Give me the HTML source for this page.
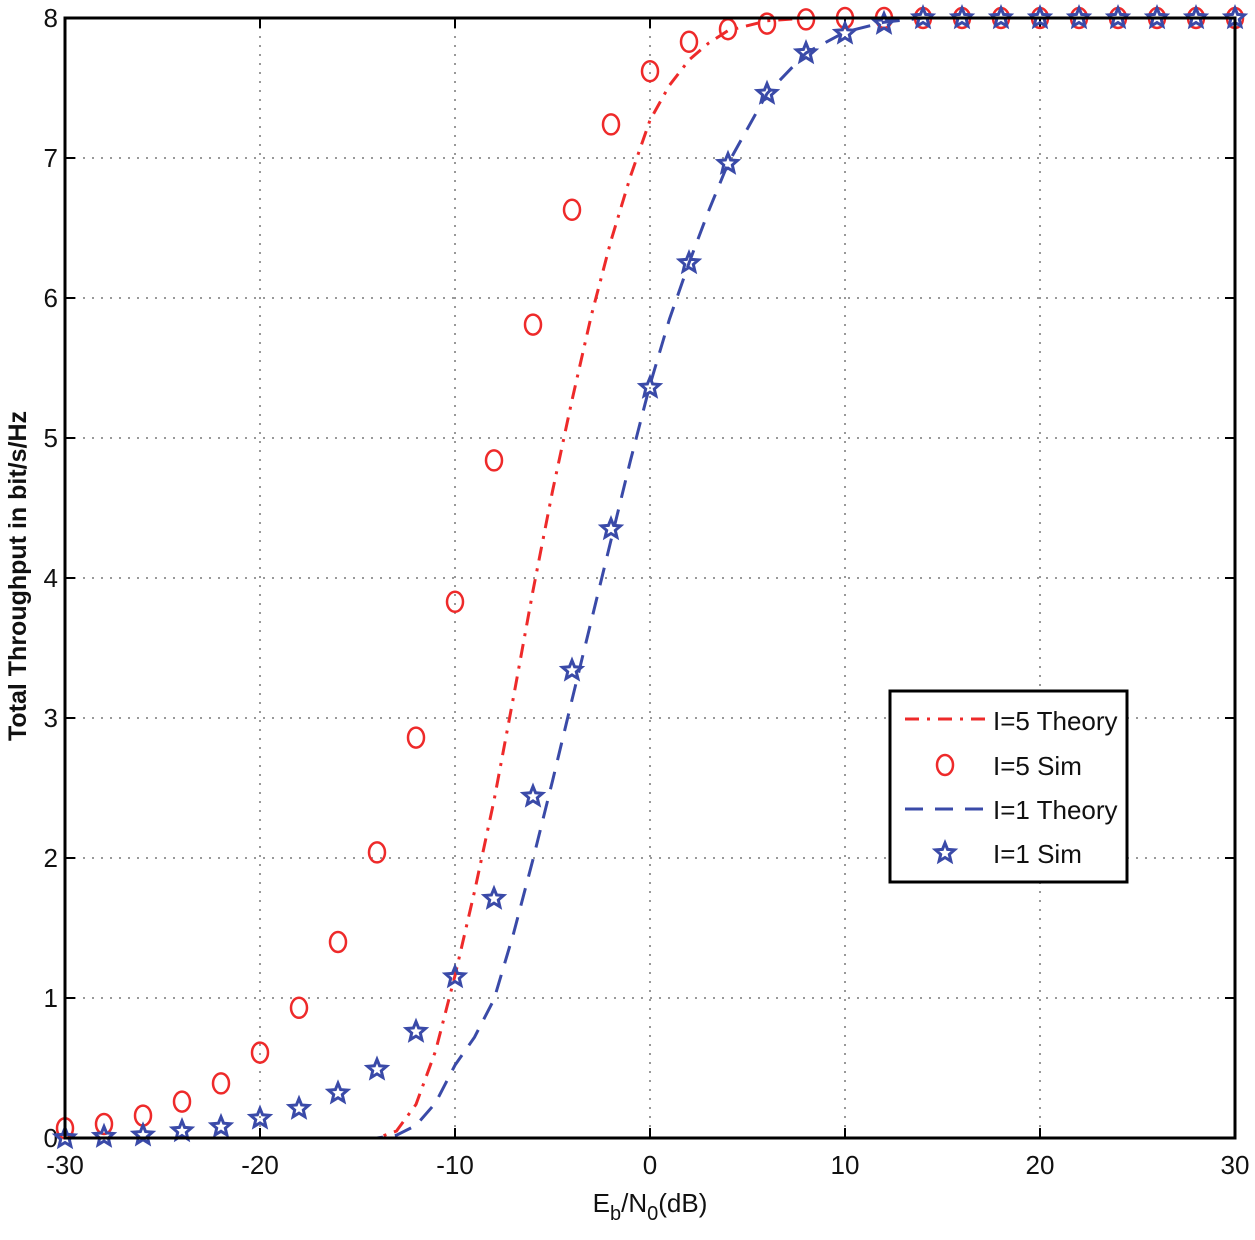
<!DOCTYPE html>
<html><head><meta charset="utf-8"><style>
html,body{margin:0;padding:0;background:#fff;}
svg{display:block;font-family:"Liberation Sans",Arial,sans-serif;}
</style></head><body>
<svg id="chart" width="1255" height="1240"></svg>
<script>
const simX = [-30,-28,-26,-24,-22,-20,-18,-16,-14,-12,-10,-8,-6,-4,-2,0,2,4,6,8,10,12,14,16,18,20,22,24,26,28,30];
const simL5 = [0.07,0.1,0.16,0.26,0.39,0.61,0.93,1.4,2.04,2.86,3.83,4.84,5.81,6.63,7.24,7.62,7.83,7.92,7.96,7.99,8,8,8,8,8,8,8,8,8,8,8];
const simL1 = [0,0.01,0.02,0.05,0.08,0.14,0.21,0.32,0.49,0.76,1.15,1.71,2.44,3.34,4.35,5.36,6.25,6.96,7.46,7.75,7.89,7.96,8,8,8,8,8,8,8,8,8];
const thX = [-30,-14,-13,-12,-11,-10,-9,-8,-7,-6,-5,-4,-3,-2,-1,0,1,2,3,4,6,8,10,12,14,30];
const thL5 = [0,0,0.05,0.24,0.62,1.16,1.76,2.41,3.15,3.91,4.62,5.27,5.88,6.41,6.87,7.27,7.52,7.7,7.82,7.91,7.98,8,8,8,8,8];
const thL1 = [0,0,0.02,0.09,0.25,0.52,0.72,0.99,1.46,1.99,2.55,3.13,3.7,4.27,4.84,5.38,5.85,6.25,6.62,6.96,7.46,7.75,7.9,7.97,8,8];
const xTicks = [-30,-20,-10,0,10,20,30];
const yTicks = [0,1,2,3,4,5,6,7,8];

const NS='http://www.w3.org/2000/svg';
const svg=document.getElementById('chart');
const X0=65,X1=1235,Y0=1138,Y1=18;
const xs=v=>X0+(v+30)/60*(X1-X0);
const ys=v=>Y0-v/8*(Y0-Y1);
function mk(tag,attrs,parent){const e=document.createElementNS(NS,tag);for(const k in attrs)e.setAttribute(k,attrs[k]);(parent||svg).appendChild(e);return e;}

const grid=mk('g',{});


xTicks.forEach(t=>{
  const l=mk('line',{x1:xs(t),x2:xs(t),y1:Y1,y2:Y0,stroke:'#999','stroke-width':2,'stroke-dasharray':'2,7'},grid);
  
  
  const tk=mk('text',{x:xs(t),y:Y0+36,'text-anchor':'middle','font-size':26,fill:'#111'});
  tk.textContent=t;
  
  
  mk('line',{x1:xs(t),x2:xs(t),y1:Y0,y2:Y0-10,stroke:'#000','stroke-width':2});
  mk('line',{x1:xs(t),x2:xs(t),y1:Y1,y2:Y1+10,stroke:'#000','stroke-width':2});
});
yTicks.forEach(t=>{
  const l=mk('line',{x1:X0,x2:X1,y1:ys(t),y2:ys(t),stroke:'#999','stroke-width':2,'stroke-dasharray':'2,7'},grid);
  
  
  const tk=mk('text',{x:X0-7,y:ys(t)+9,'text-anchor':'end','font-size':26,fill:'#111'});
  tk.textContent=t;
  
  
  mk('line',{x1:X0,x2:X0+10,y1:ys(t),y2:ys(t),stroke:'#000','stroke-width':2});
  mk('line',{x1:X1,x2:X1-10,y1:ys(t),y2:ys(t),stroke:'#000','stroke-width':2});
});

function line(xa,ya,color,dash,name){
  const p=mk('path',{d:xa.map((x,i)=>(i?'L':'M')+xs(x)+','+ys(ya[i])).join(''),fill:'none',stroke:color,'stroke-width':3,'stroke-dasharray':dash});
  
  
}
line(thX,thL1,'#3a4aa8','18,12','l1-theory-line');
line(thX,thL5,'#ee2a2a','14,8,3,8','l5-theory-line');

function star(cx,cy,r){let pts=[];for(let i=0;i<10;i++){const a=-Math.PI/2+i*Math.PI/5;const rr=i%2?r*0.45:r;pts.push((cx+rr*Math.cos(a)).toFixed(1)+','+(cy+rr*Math.sin(a)).toFixed(1));}return pts.join(' ');}
simX.forEach((x,i)=>{
  const c=mk('ellipse',{cx:xs(x),cy:ys(simL5[i]),rx:8,ry:10,fill:'none',stroke:'#ee2a2a','stroke-width':2.5});
  
  
  const s=mk('polygon',{points:star(xs(x),ys(simL1[i]),10),fill:'none',stroke:'#3a4aa8','stroke-width':3});
  
  
});

const frame=mk('rect',{x:X0,y:Y1,width:X1-X0,height:Y0-Y1,fill:'none',stroke:'#000','stroke-width':3});



const xt=mk('text',{x:650,y:1212,'text-anchor':'middle','font-size':26,fill:'#111'});
xt.innerHTML='E<tspan font-size="20" dy="8">b</tspan><tspan dy="-8">/N</tspan><tspan font-size="20" dy="8">0</tspan><tspan dy="-8">(dB)</tspan>';


const yt=mk('text',{x:0,y:0,'text-anchor':'middle','font-size':25,'font-weight':'bold',fill:'#111',transform:'translate(26,576) rotate(-90)'});
yt.textContent='Total Throughput in bit/s/Hz';



const lg=mk('g',{});


mk('rect',{x:890,y:691,width:237,height:191,fill:'#fff',stroke:'#000','stroke-width':3},lg);
const items=[['I=5 Theory',720],['I=5 Sim',765],['I=1 Theory',809],['I=1 Sim',853]];
mk('line',{x1:905,x2:985,y1:719,y2:719,stroke:'#ee2a2a','stroke-width':3,'stroke-dasharray':'14,8,3,8'},lg);
mk('ellipse',{cx:945,cy:765,rx:8,ry:10,fill:'none',stroke:'#ee2a2a','stroke-width':2.5},lg);
mk('line',{x1:905,x2:985,y1:809,y2:809,stroke:'#3a4aa8','stroke-width':3,'stroke-dasharray':'18,12'},lg);
mk('polygon',{points:star(945,853,10),fill:'none',stroke:'#3a4aa8','stroke-width':3},lg);
items.forEach(([t,y])=>{
  const e=mk('text',{x:993,y:y+10,'font-size':26,fill:'#111'},lg);
  e.textContent=t;
  
  
});
</script>
</body></html>
